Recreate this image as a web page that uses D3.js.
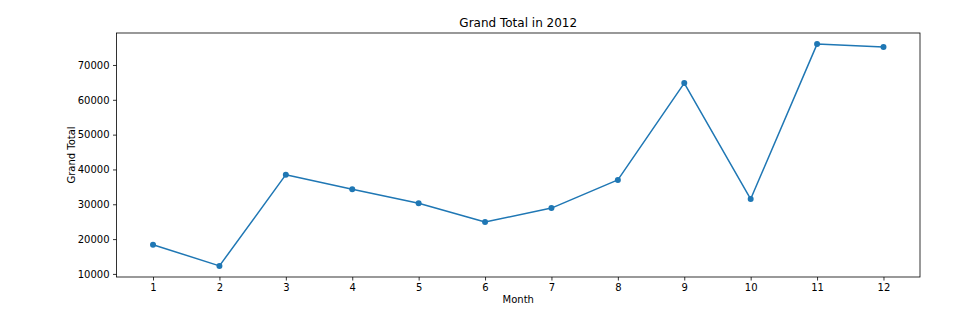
<!DOCTYPE html>
<html><head><meta charset="utf-8">
<script src="https://cdn.jsdelivr.net/npm/d3@7"></script>
<style>body{margin:0;background:#fff}svg{display:block}text{font-family:"DejaVu Sans",sans-serif;fill:#000}</style>
</head><body>
<script>
const months = [1,2,3,4,5,6,7,8,9,10,11,12];
const totals = [18400,12300,38500,34300,30300,24900,28900,37000,64800,31500,76000,75200];
const yTicks = [10000,20000,30000,40000,50000,60000,70000];
const title = "Grand Total in 2012";
const xLabel = "Month";
const yLabel = "Grand Total";

const W = 968, H = 334;
const m = {left:116.5, right:920, top:33, bottom:277};
const svg = d3.select("body").append("svg").attr("width",W).attr("height",H);

const xmin = d3.min(months), xmax = d3.max(months), xr = xmax - xmin;
const ymin = d3.min(totals), ymax = d3.max(totals), yr = ymax - ymin;
const x = d3.scaleLinear().domain([xmin-0.05*xr, xmax+0.05*xr]).range([m.left, m.right]);
const y = d3.scaleLinear().domain([ymin-0.05*yr, ymax+0.05*yr]).range([m.bottom, m.top]);

const xa = svg.append("g").attr("transform",`translate(0,${m.bottom})`)
  .call(d3.axisBottom(x).tickValues(months).tickFormat(d3.format("d")).tickSize(3.5).tickPadding(3.5));
const ya = svg.append("g").attr("transform",`translate(${m.left},0)`)
  .call(d3.axisLeft(y).tickValues(yTicks).tickFormat(d3.format("d")).tickSize(3.5).tickPadding(3.5));
[xa,ya].forEach(a=>{
  a.select(".domain").remove();
  a.selectAll(".tick line").attr("stroke","#000").attr("stroke-width",0.8);
  a.selectAll(".tick text").attr("font-size",10).attr("fill","#000").style("font-family","DejaVu Sans");
});

svg.append("rect").attr("x",m.left).attr("y",m.top).attr("width",m.right-m.left).attr("height",m.bottom-m.top)
  .attr("fill","none").attr("stroke","#000").attr("stroke-width",0.8);

const line = d3.line().x((d,i)=>x(months[i])).y(d=>y(d));
svg.append("path").datum(totals).attr("d",line).attr("fill","none").attr("stroke","#1f77b4").attr("stroke-width",1.5).attr("stroke-linejoin","round");
svg.selectAll("circle.pt").data(totals).enter().append("circle").attr("class","pt")
  .attr("cx",(d,i)=>x(months[i])).attr("cy",d=>y(d)).attr("r",3).attr("fill","#1f77b4");

svg.append("text").attr("x",(m.left+m.right)/2).attr("y",m.top-6).attr("text-anchor","middle").attr("font-size",12).text(title);
svg.append("text").attr("x",(m.left+m.right)/2).attr("y",303).attr("text-anchor","middle").attr("font-size",10).text(xLabel);
svg.append("text").attr("transform",`translate(75,${(m.top+m.bottom)/2}) rotate(-90)`).attr("text-anchor","middle").attr("font-size",10).text(yLabel);
</script>
</body></html>
